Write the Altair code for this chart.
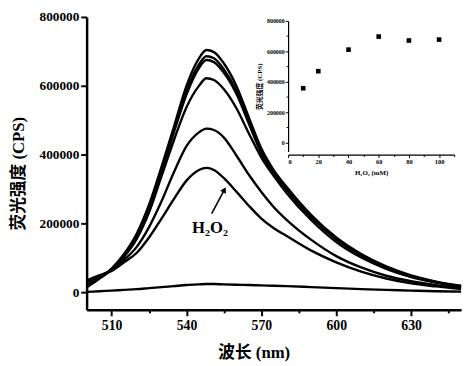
import altair as alt
import pandas as pd

# ---------------- data ----------------
wavelength = [500, 505, 510, 515, 520, 525, 530, 535, 540, 545, 548, 551, 555,
              560, 565, 570, 575, 580, 590, 600, 610, 620, 630, 640, 650]

int_0mM = [2000, 4000, 6000, 8000, 10000, 13000, 16000, 19000, 22000, 24000, 25000, 25000, 24000,
           23000, 22000, 21000, 20000, 19000, 16000, 13000, 10000, 8000, 6000, 4000, 3000]
int_10mM = [35000, 50000, 63000, 88000, 115000, 160000, 215000, 272000, 325000, 356000, 362000, 356000, 332000,
            293000, 252000, 215000, 187000, 165000, 122000, 88000, 61000, 41000, 27000, 18000, 10000]
int_20mM = [30000, 48000, 66000, 95000, 132000, 190000, 265000, 350000, 425000, 465000, 476000, 472000, 450000,
            398000, 342000, 292000, 248000, 212000, 153000, 106000, 73000, 49000, 33000, 22000, 13000]
int_40mM = [22000, 44000, 67000, 104000, 155000, 233000, 338000, 443000, 538000, 600000, 622000, 617000, 590000,
            535000, 462000, 392000, 338000, 290000, 210000, 147000, 102000, 69000, 45000, 29000, 17000]
int_60mM = [20000, 42000, 70000, 112000, 170000, 255000, 365000, 482000, 600000, 680000, 704000, 698000, 665000,
            600000, 508000, 418000, 355000, 308000, 225000, 160000, 112000, 76000, 50000, 32000, 20000]
int_80mM = [15000, 40000, 67000, 107000, 163000, 246000, 352000, 466000, 575000, 652000, 675000, 669000, 638000,
            577000, 490000, 404000, 344000, 299000, 218000, 155000, 108000, 73000, 47000, 30000, 17000]
int_100mM = [18000, 41000, 68000, 109000, 166000, 250000, 358000, 473000, 585000, 662000, 686000, 680000, 648000,
             586000, 497000, 410000, 349000, 303000, 221000, 157000, 110000, 74000, 48000, 31000, 18000]

series_names = ["0", "10", "20", "40", "60", "80", "100"]
series_values = [int_0mM, int_10mM, int_20mM, int_40mM, int_60mM, int_80mM, int_100mM]

# inset
inset_conc = [10, 20, 40, 60, 80, 100]
inset_intensity = [357000, 469000, 611000, 697000, 671000, 677000]

# annotation
arrow_wl = [550.1, 555.0]
arrow_int = [229000, 296000]
label_wl = [549.4]
label_int = [187000]
label_text = ["H₂O₂"]

# ---------------- build ----------------
rows = []
for name, vals in zip(series_names, series_values):
    for w, v in zip(wavelength, vals):
        rows.append({"wl": w, "I": v, "s": name})
df = pd.DataFrame(rows)

arrow_df = pd.DataFrame({"wl": arrow_wl, "I": arrow_int})
head_df = arrow_df.iloc[[1]]
label_df = pd.DataFrame({"wl": label_wl, "I": label_int, "t": label_text})
inset_df = pd.DataFrame({"c": inset_conc, "v": inset_intensity})

SERIF = "Liberation Serif, Noto Sans CJK SC, serif"

xs_main = alt.Scale(domain=[500, 650], nice=False, zero=False)
ys_main = alt.Scale(domain=[-50000, 800000], nice=False, zero=False)

x_axis = alt.Axis(
    values=[510, 525, 540, 555, 570, 585, 600, 615, 630, 645],
    labelExpr="datum.value % 30 === 0 ? datum.label : ''",
    labelOverlap=False,
    tickSize={"condition": {"test": "datum.value % 30 === 0", "value": 6}, "value": 3},
    tickWidth=2, domainWidth=2.5, domainColor="black", tickColor="black",
    labelFont=SERIF, labelFontSize=14, labelFontWeight="bold", labelColor="black",
    labelPadding=3, grid=False,
    title="波长 (nm)", titleFont=SERIF, titleFontSize=17, titleFontWeight="bold",
    titleColor="black", titleX=170, titleY=43, titleBaseline="middle",
)
y_axis = alt.Axis(
    values=[0, 100000, 200000, 300000, 400000, 500000, 600000, 700000, 800000],
    labelExpr="datum.value % 200000 === 0 ? datum.label : ''",
    labelOverlap=False, format="d",
    tickSize={"condition": {"test": "datum.value % 200000 === 0", "value": 6}, "value": 3},
    tickWidth=2, domainWidth=2.5, domainColor="black", tickColor="black",
    labelFont=SERIF, labelFontSize=13.5, labelFontWeight="bold", labelColor="black",
    labelPadding=2, grid=False,
    title="荧光强度 (CPS)", titleFont=SERIF, titleFontSize=17, titleFontWeight="bold",
    titleColor="black", titleX=-69, titleY=159, titleAlign="center", titleBaseline="middle",
)

lines = alt.Chart(df).mark_line(color="black", strokeWidth=2.4, interpolate="monotone").encode(
    x=alt.X("wl:Q", scale=xs_main, axis=x_axis),
    y=alt.Y("I:Q", scale=ys_main, axis=y_axis),
    detail="s:N",
)
arrow = alt.Chart(arrow_df).mark_line(color="black", strokeWidth=1.6).encode(
    x=alt.X("wl:Q", scale=xs_main), y=alt.Y("I:Q", scale=ys_main)
)
head = alt.Chart(head_df).mark_point(shape="triangle", filled=True, size=45, angle=28,
                                     color="black", opacity=1).encode(
    x=alt.X("wl:Q", scale=xs_main), y=alt.Y("I:Q", scale=ys_main)
)
label = alt.Chart(label_df).mark_text(font=SERIF, fontSize=17, fontWeight="bold", color="black").encode(
    x=alt.X("wl:Q", scale=xs_main), y=alt.Y("I:Q", scale=ys_main), text="t:N"
)
main = alt.layer(lines, arrow, head, label)

inset_x_axis = alt.Axis(
    orient="bottom", offset=-158,
    values=[0, 10, 20, 30, 40, 50, 60, 70, 80, 90, 100, 110],
    labelExpr="datum.value % 20 === 0 ? datum.label : ''",
    labelOverlap=False,
    tickSize={"condition": {"test": "datum.value % 20 === 0", "value": 3}, "value": 2},
    tickWidth=1, domainWidth=1.2, domainColor="black", tickColor="black",
    labelFont=SERIF, labelFontSize=6.5, labelFontWeight="bold", labelColor="black",
    labelPadding=1, grid=False,
    title="H₂O₂ (mM)", titleFont=SERIF, titleFontSize=7, titleFontWeight="bold",
    titleColor="black", titlePadding=4,
)
inset_y_axis = alt.Axis(
    orient="left", offset=-205,
    values=[0, 100000, 200000, 300000, 400000, 500000, 600000, 700000, 800000],
    labelExpr="datum.value % 200000 === 0 ? datum.label : ''",
    labelOverlap=False, format="d",
    tickSize={"condition": {"test": "datum.value % 200000 === 0", "value": 3}, "value": 2},
    tickWidth=1, domainWidth=1.2, domainColor="black", tickColor="black",
    labelFont=SERIF, labelFontSize=6, labelFontWeight="bold", labelColor="black",
    labelPadding=1, grid=False,
    title="荧光强度 (CPS)", titleFont=SERIF, titleFontSize=7, titleFontWeight="bold",
    titleColor="black", titlePadding=4,
)
inset = alt.Chart(inset_df).mark_square(size=22, color="black", opacity=1).encode(
    x=alt.X("c:Q", scale=alt.Scale(domain=[0, 110], range=[205, 374], nice=False, zero=False),
            axis=inset_x_axis),
    y=alt.Y("v:Q", scale=alt.Scale(domain=[-60000, 800000], range=[137, 4], nice=False, zero=False),
            axis=inset_y_axis),
)

chart = alt.layer(main, inset).resolve_scale(x="independent", y="independent").properties(
    width=381, height=298,
    autosize=alt.AutoSizeParams(type="none"),
    padding={"left": 80, "top": 6, "right": 5, "bottom": 54},
    background="white",
).configure_view(stroke=None)

chart.save("out.html", embed_options={"renderer": "svg", "actions": False})
